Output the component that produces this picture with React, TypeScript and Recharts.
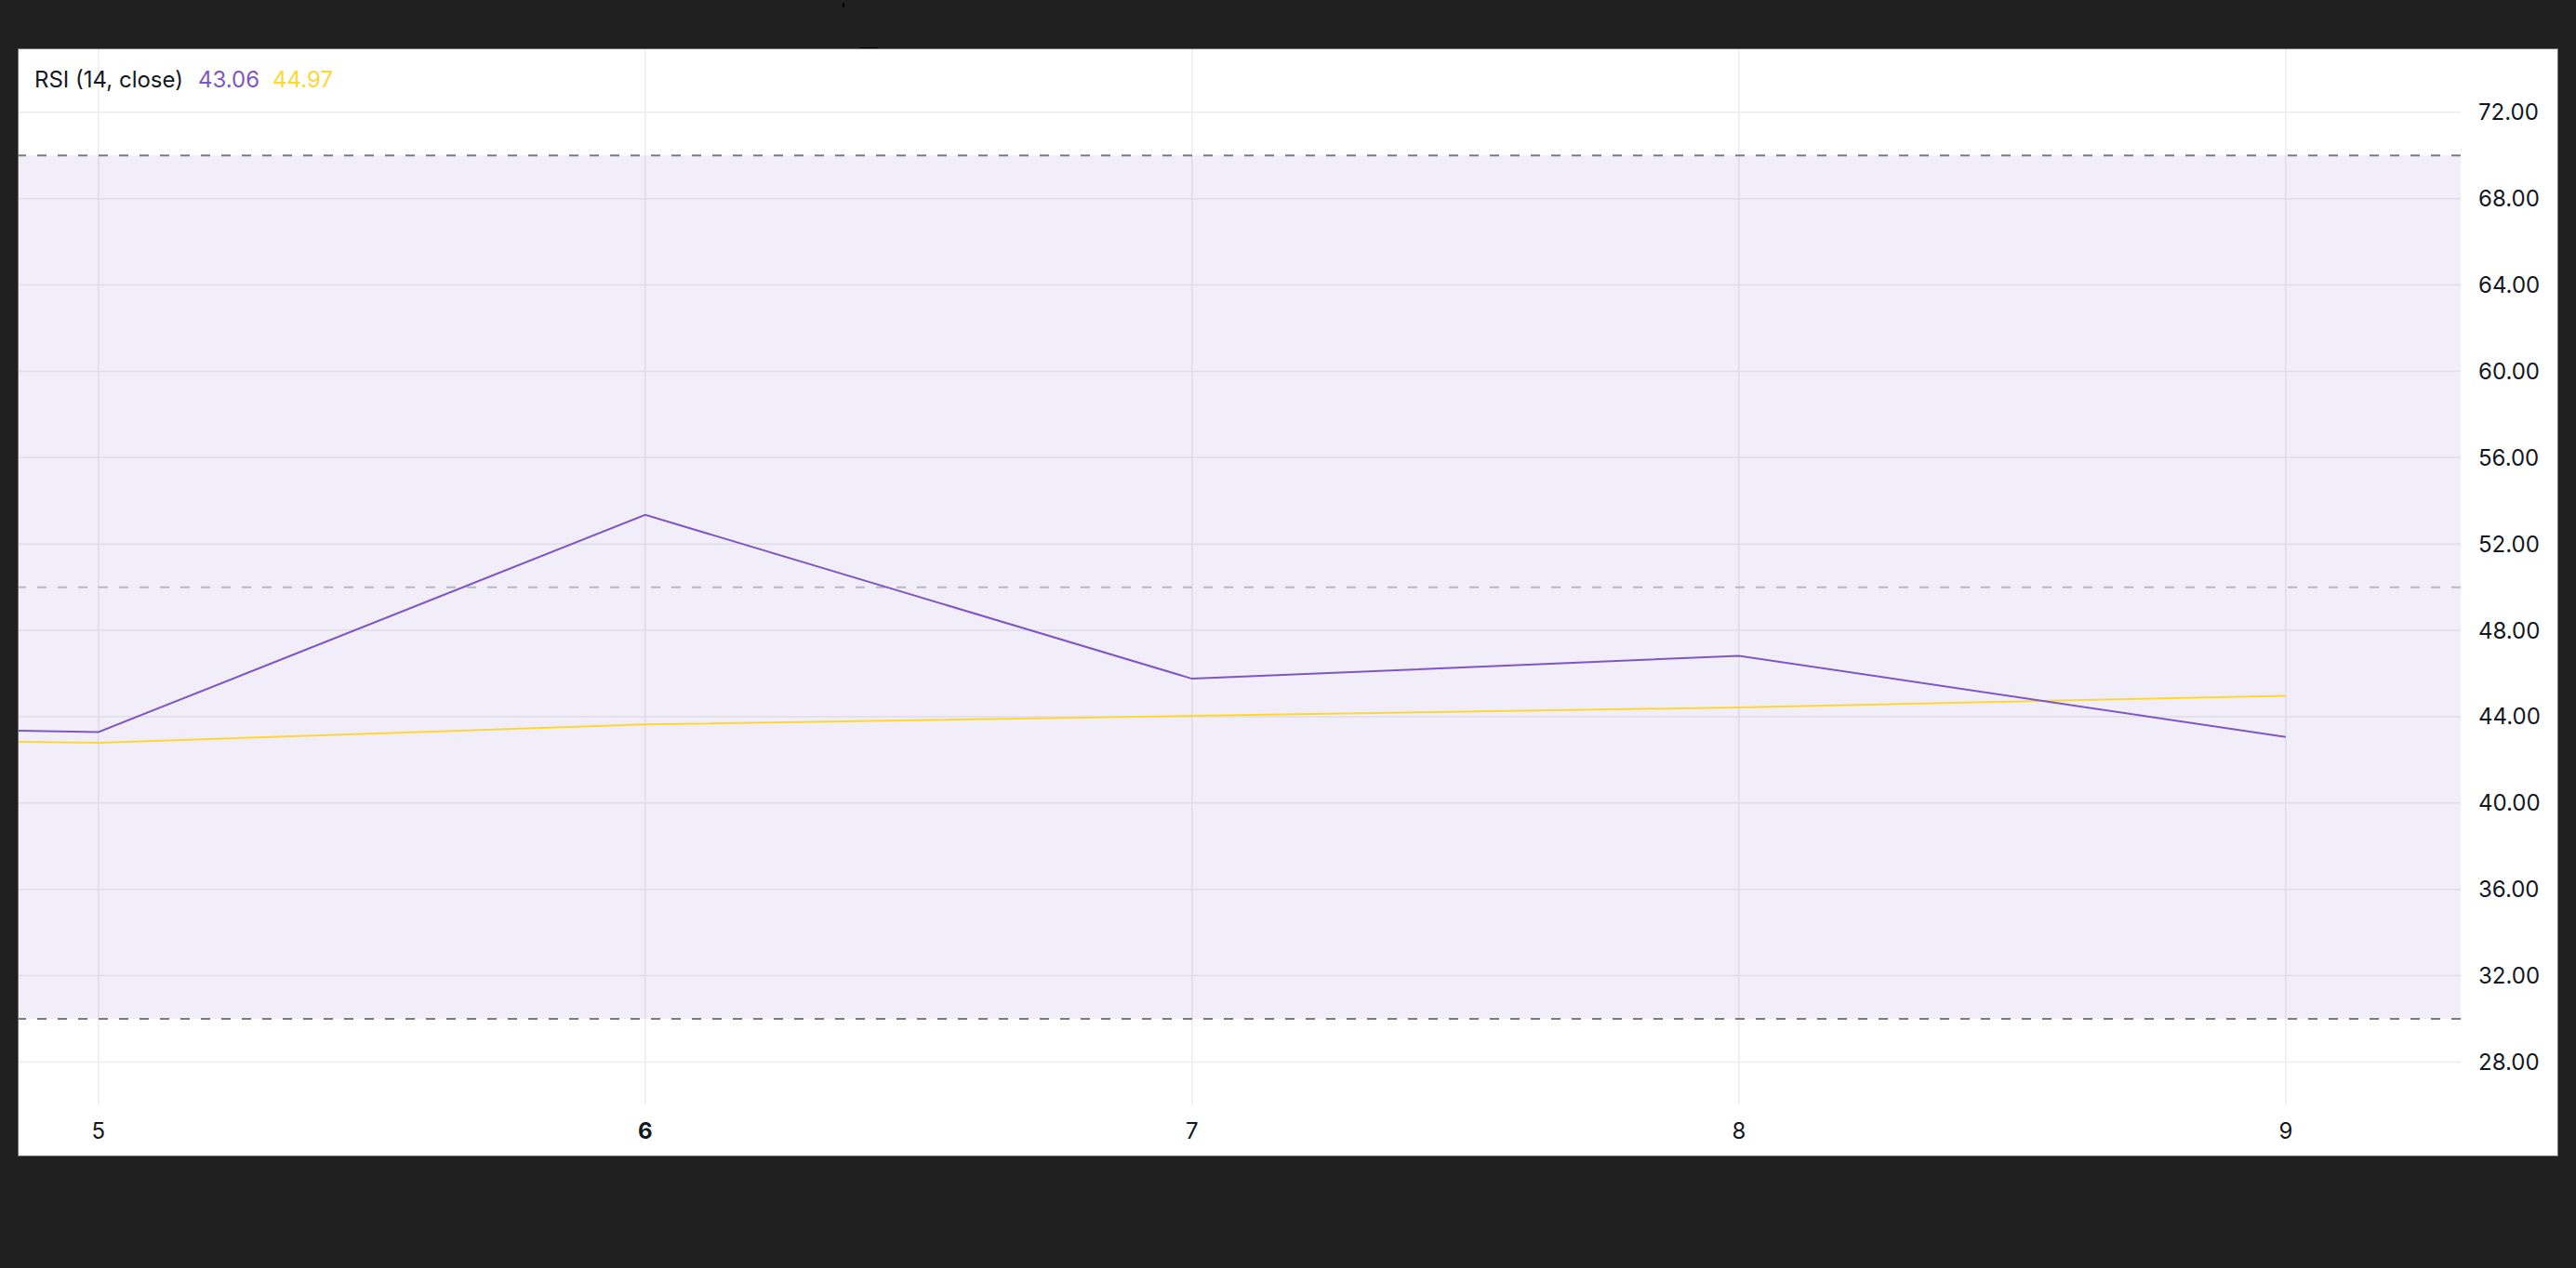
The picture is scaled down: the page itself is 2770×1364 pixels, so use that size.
import React from "react";
import {
  LineChart,
  Line,
  XAxis,
  YAxis,
  CartesianGrid,
  ReferenceLine,
  ReferenceArea,
} from "recharts";

// ---- data ----
const days = [4, 5, 6, 7, 8, 9];
const rsiValues = [43.7, 43.29, 53.35, 45.76, 46.82, 43.06];
const rsiMaValues = [43.13, 42.79, 43.64, 44.04, 44.43, 44.97];
const xTicks = [5, 6, 7, 8, 9];
const boldTicks = [6];
const yTicks = [28, 32, 36, 40, 44, 48, 52, 56, 60, 64, 68, 72];
const upperBand = 70;
const middleBand = 50;
const lowerBand = 30;
const legendTitle = "RSI (14, close)";
const legendRsi = "43.06";
const legendMa = "44.97";

const data = days.map((d, i) => ({ day: d, rsi: rsiValues[i], ma: rsiMaValues[i] }));

const FONT = "Inter, 'Noto Sans', sans-serif";
const PURPLE = "#7e57c2";
const YELLOW = "#fdd835";
const TEXT = "#131722";

const applyScale = (scale: any, v: number): number => {
  if (typeof scale === "function") return scale(v);
  if (scale && typeof scale.map === "function") return scale.map(v);
  return NaN;
};

const XTick = (props: any) => {
  const { x, y, payload } = props;
  const bold = boldTicks.includes(payload.value);
  return (
    <text
      x={x}
      y={y}
      dy="0.71em"
      textAnchor="middle"
      fill={TEXT}
      fontSize={24}
      fontFamily={FONT}
      fontWeight={bold ? 700 : 400}
    >
      {payload.value}
    </text>
  );
};

export default function App() {
  return (
    <div
      style={{
        position: "absolute",
        left: 0,
        top: 0,
        width: 2770,
        height: 1364,
        background: "#202020",
        overflow: "hidden",
      }}
    >
      {/* small dark artefacts above the panel */}
      <div style={{ position: "absolute", left: 906, top: 3, width: 2, height: 5, background: "#000" }} />
      <div
        style={{
          position: "absolute",
          left: 924,
          top: 51,
          width: 20,
          height: 3,
          background: "#000",
          borderRadius: 2,
        }}
      />
      <div
        style={{
          position: "absolute",
          left: 19,
          top: 52,
          width: 2730,
          height: 1190,
          border: "1px solid #6e6e6e",
          background: "#ffffff",
        }}
      >
        <LineChart
          width={2730}
          height={1190}
          data={data}
          margin={{ top: 0, right: 0, bottom: 0, left: 0 }}
        >
          <ReferenceArea
            y1={lowerBand}
            y2={upperBand}
            fill={PURPLE}
            fillOpacity={0.1}
            stroke="none"
            ifOverflow="hidden"
          />
          <CartesianGrid
            stroke="#ececec"
            strokeWidth={1.5}
            horizontalCoordinatesGenerator={(p: any) =>
              yTicks.map((t) => applyScale(p.yAxis.scale, t))
            }
            verticalCoordinatesGenerator={(p: any) =>
              xTicks.map((t) => applyScale(p.xAxis.scale, t))
            }
          />
          <XAxis
            dataKey="day"
            type="number"
            domain={[4.854, 9.32]}
            ticks={xTicks}
            allowDataOverflow
            height={55}
            axisLine={false}
            tickLine={false}
            tickSize={0}
            tickMargin={20}
            tick={<XTick />}
            interval={0}
          />
          <YAxis
            orientation="right"
            type="number"
            domain={[26.04, 74.92]}
            ticks={yTicks}
            allowDataOverflow
            width={104}
            axisLine={false}
            tickLine={false}
            tickSize={0}
            tickMargin={19}
            interval={0}
            tickFormatter={(v: number) => v.toFixed(2)}
            tick={{ fill: TEXT, fontSize: 24, fontFamily: FONT }}
          />
          <ReferenceLine y={upperBand} stroke="#787b86" strokeWidth={2} strokeDasharray="10 12" />
          <ReferenceLine y={middleBand} stroke="#b6b8c0" strokeWidth={2} strokeDasharray="10 12" />
          <ReferenceLine y={lowerBand} stroke="#787b86" strokeWidth={2} strokeDasharray="10 12" />
          <Line
            type="linear"
            dataKey="ma"
            stroke={YELLOW}
            strokeWidth={2}
            dot={false}
            activeDot={false}
            isAnimationActive={false}
          />
          <Line
            type="linear"
            dataKey="rsi"
            stroke={PURPLE}
            strokeWidth={2}
            dot={false}
            activeDot={false}
            isAnimationActive={false}
          />
        </LineChart>
        <div
          style={{
            position: "absolute",
            left: 17,
            top: 18,
            fontFamily: FONT,
            fontSize: 24,
            lineHeight: "30px",
            whiteSpace: "nowrap",
          }}
        >
          <span style={{ color: TEXT }}>{legendTitle}</span>
          <span style={{ color: PURPLE, marginLeft: 16 }}>{legendRsi}</span>
          <span style={{ color: YELLOW, marginLeft: 14 }}>{legendMa}</span>
        </div>
      </div>
    </div>
  );
}
